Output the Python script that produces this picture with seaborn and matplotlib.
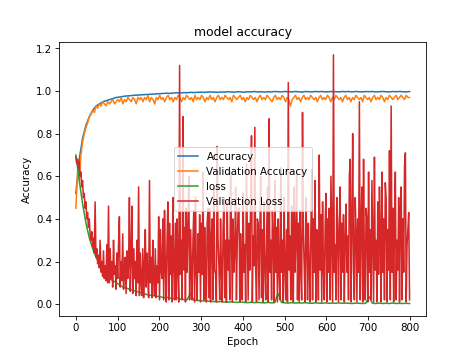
import numpy as np
import matplotlib
matplotlib.use("Agg")
import matplotlib.pyplot as plt
import seaborn as sns

# training accuracy, sampled every ~8 epochs
accuracy = [
    0.52, 0.68, 0.78, 0.84, 0.88, 0.91, 0.93, 0.94, 0.95, 0.955, 0.96, 0.965, 0.97, 0.972, 0.975, 0.977, 0.978, 0.98, 0.981, 0.982,
    0.983, 0.984, 0.985, 0.986, 0.987, 0.988, 0.989, 0.99, 0.989, 0.991, 0.992, 0.991, 0.993, 0.992, 0.994, 0.993, 0.994, 0.995, 0.994, 0.995,
    0.996, 0.995, 0.994, 0.996, 0.995, 0.997, 0.996, 0.995, 0.997, 0.996, 0.995, 0.997, 0.996, 0.998, 0.996, 0.997, 0.995, 0.997, 0.996, 0.998,
    0.997, 0.996, 0.998, 0.997, 0.996, 0.998, 0.997, 0.995, 0.998, 0.997, 0.996, 0.998, 0.997, 0.998, 0.996, 0.997, 0.998, 0.997, 0.996, 0.998,
    0.997, 0.998, 0.996, 0.998, 0.997, 0.996, 0.998, 0.997, 0.998, 0.996, 0.997, 0.998, 0.997, 0.996, 0.998, 0.997, 0.998, 0.997, 0.996, 0.998,
]

# validation accuracy, sampled every ~4 epochs
val_accuracy = [
    0.45, 0.62, 0.58, 0.70, 0.76, 0.80, 0.83, 0.85, 0.88, 0.89, 0.91, 0.90, 0.93, 0.92, 0.94, 0.93, 0.95, 0.94, 0.93, 0.95,
    0.94, 0.95, 0.96, 0.94, 0.95, 0.96, 0.95, 0.97, 0.94, 0.96, 0.95, 0.97, 0.96, 0.95, 0.97, 0.96, 0.94, 0.97, 0.96, 0.97,
    0.95, 0.97, 0.96, 0.98, 0.95, 0.97, 0.96, 0.94, 0.97, 0.96, 0.98, 0.96, 0.97, 0.95, 0.97, 0.98, 0.96, 0.97, 0.95, 0.97,
    0.96, 0.98, 0.97, 0.95, 0.97, 0.96, 0.98, 0.97, 0.96, 0.97, 0.95, 0.98, 0.96, 0.97, 0.96, 0.98, 0.97, 0.95, 0.97, 0.96,
    0.98, 0.96, 0.97, 0.95, 0.97, 0.98, 0.96, 0.97, 0.96, 0.98, 0.97, 0.96, 0.97, 0.95, 0.98, 0.97, 0.96, 0.97, 0.98, 0.96,
    0.97, 0.95, 0.97, 0.96, 0.98, 0.97, 0.96, 0.97, 0.95, 0.97, 0.98, 0.96, 0.97, 0.96, 0.98, 0.97, 0.96, 0.95, 0.97, 0.98,
    0.96, 0.97, 0.96, 0.98, 0.97, 0.95, 0.97, 0.96, 0.93, 0.96, 0.97, 0.98, 0.96, 0.97, 0.95, 0.97, 0.98, 0.96, 0.97, 0.96,
    0.98, 0.97, 0.96, 0.97, 0.95, 0.97, 0.98, 0.96, 0.97, 0.96, 0.98, 0.97, 0.95, 0.97, 0.96, 0.98, 0.97, 0.96, 0.97, 0.95,
    0.97, 0.98, 0.96, 0.97, 0.95, 0.97, 0.96, 0.98, 0.97, 0.96, 0.97, 0.95, 0.98, 0.97, 0.96, 0.97, 0.95, 0.97, 0.98, 0.96,
    0.97, 0.96, 0.98, 0.97, 0.95, 0.97, 0.96, 0.98, 0.97, 0.96, 0.97, 0.98, 0.96, 0.97, 0.98, 0.97, 0.96, 0.98, 0.97, 0.97,
]

# training loss, sampled every ~8 epochs
loss = [
    0.70, 0.58, 0.47, 0.38, 0.31, 0.26, 0.22, 0.19, 0.16, 0.14, 0.12, 0.11, 0.10, 0.09, 0.08, 0.075, 0.07, 0.065, 0.06, 0.055,
    0.05, 0.045, 0.042, 0.04, 0.037, 0.035, 0.03, 0.032, 0.028, 0.026, 0.03, 0.024, 0.022, 0.02, 0.05, 0.018, 0.017, 0.016, 0.015, 0.014,
    0.013, 0.012, 0.011, 0.012, 0.01, 0.009, 0.011, 0.009, 0.008, 0.01, 0.008, 0.007, 0.009, 0.007, 0.008, 0.007, 0.006, 0.008, 0.006, 0.007,
    0.05, 0.008, 0.006, 0.005, 0.007, 0.005, 0.006, 0.005, 0.007, 0.005, 0.004, 0.006, 0.005, 0.004, 0.006, 0.004, 0.005, 0.004, 0.006, 0.004,
    0.005, 0.004, 0.003, 0.005, 0.004, 0.003, 0.004, 0.035, 0.004, 0.003, 0.005, 0.003, 0.004, 0.003, 0.005, 0.003, 0.004, 0.003, 0.004, 0.003,
]

# validation loss, sampled every ~2 epochs
val_loss = [
    0.69, 0.66, 0.68, 0.64, 0.67, 0.60, 0.62, 0.55, 0.58, 0.50, 0.52, 0.45, 0.48, 0.40, 0.43, 0.36, 0.40, 0.33, 0.30, 0.34,
    0.27, 0.31, 0.24, 0.48, 0.22, 0.26, 0.19, 0.23, 0.17, 0.30, 0.15, 0.20, 0.13, 0.25, 0.12, 0.18, 0.11, 0.28, 0.10, 0.46,
    0.10, 0.26, 0.12, 0.20, 0.08, 0.30, 0.14, 0.18, 0.07, 0.24, 0.12, 0.28, 0.41, 0.08, 0.20, 0.11, 0.33, 0.07, 0.16, 0.22,
    0.05, 0.25, 0.12, 0.18, 0.50, 0.06, 0.22, 0.46, 0.05, 0.26, 0.12, 0.20, 0.04, 0.30, 0.10, 0.55, 0.04, 0.24, 0.12, 0.04,
    0.26, 0.03, 0.18, 0.35, 0.08, 0.24, 0.12, 0.03, 0.58, 0.10, 0.22, 0.03, 0.30, 0.12, 0.04, 0.26, 0.03, 0.18, 0.10, 0.41,
    0.02, 0.35, 0.16, 0.12, 0.40, 0.02, 0.44, 0.18, 0.01, 0.30, 0.48, 0.02, 0.38, 0.14, 0.32, 0.01, 0.50, 0.18, 0.02, 0.38,
    0.02, 0.40, 0.16, 0.01, 1.12, 0.14, 0.30, 0.02, 0.88, 0.16, 0.36, 0.01, 0.45, 0.15, 0.35, 0.60, 0.02, 0.35, 0.20, 0.02,
    0.30, 0.44, 0.01, 0.50, 0.16, 0.02, 0.33, 0.15, 0.42, 0.01, 0.38, 0.14, 0.62, 0.02, 0.36, 0.14, 0.01, 0.38, 0.45, 0.03,
    0.45, 0.01, 0.32, 0.40, 0.02, 0.55, 0.16, 0.14, 0.01, 0.74, 0.30, 0.18, 0.02, 0.40, 0.16, 0.01, 0.35, 0.50, 0.03, 0.30,
    0.01, 0.48, 0.16, 0.30, 0.02, 0.62, 0.35, 0.01, 0.40, 0.15, 0.25, 0.55, 0.02, 0.30, 0.44, 0.45, 0.01, 0.33, 0.14, 0.02,
    0.52, 0.15, 0.28, 0.01, 0.66, 0.32, 0.02, 0.38, 0.16, 0.50, 0.79, 0.01, 0.32, 0.18, 0.83, 0.16, 0.01, 0.40, 0.38, 0.02,
    0.35, 0.60, 0.03, 0.35, 0.01, 0.48, 0.18, 0.02, 0.30, 0.55, 0.01, 0.87, 0.15, 0.30, 0.02, 0.44, 0.32, 0.01, 0.58, 0.15,
    0.36, 0.01, 0.40, 0.16, 0.02, 0.64, 0.15, 0.30, 0.01, 0.50, 0.18, 0.02, 0.35, 0.01, 1.04, 0.16, 0.32, 0.02, 0.46, 0.30,
    0.01, 0.55, 0.15, 0.30, 0.62, 0.02, 0.38, 0.01, 0.44, 0.16, 0.02, 0.90, 0.33, 0.18, 0.01, 0.50, 0.32, 0.02, 0.38, 0.16,
    0.01, 0.35, 0.63, 0.02, 0.40, 0.15, 0.58, 0.01, 0.35, 0.30, 0.02, 0.70, 0.16, 0.42, 0.01, 0.48, 0.18, 0.02, 0.35, 0.52,
    0.01, 0.40, 0.15, 0.45, 0.02, 0.60, 0.32, 0.01, 1.17, 0.15, 0.28, 0.02, 0.50, 0.35, 0.01, 0.38, 0.55, 0.02, 0.38, 0.15,
    0.42, 0.01, 0.30, 0.47, 0.15, 0.32, 0.02, 0.60, 0.68, 0.01, 0.35, 0.80, 0.16, 0.02, 0.50, 0.35, 0.01, 0.40, 0.15, 0.95,
    0.02, 0.38, 0.55, 0.01, 0.68, 0.16, 0.02, 0.45, 0.40, 0.01, 0.62, 0.15, 0.35, 0.02, 0.58, 0.30, 0.01, 0.69, 0.16, 0.30,
    0.01, 0.48, 0.14, 0.55, 0.35, 0.01, 0.62, 0.15, 0.40, 0.02, 0.57, 0.50, 0.01, 0.35, 0.16, 0.72, 0.02, 0.93, 0.15, 0.45,
    0.01, 0.38, 0.62, 0.02, 0.30, 0.16, 0.50, 0.01, 0.40, 0.55, 0.02, 0.40, 0.15, 0.65, 0.71, 0.01, 0.28, 0.35, 0.43, 0.02,
]

series = [
    (accuracy, "Accuracy", "tab:blue"),
    (val_accuracy, "Validation Accuracy", "tab:orange"),
    (loss, "loss", "tab:green"),
    (val_loss, "Validation Loss", "tab:red"),
]

fig, ax = plt.subplots(figsize=(6.4, 4.8), dpi=74)

for values, name, col in series:
    epochs = np.linspace(0, 799, len(values))
    sns.lineplot(x=epochs, y=values, ax=ax, label=name, color=col)

ax.set_title("model accuracy")
ax.set_xlabel("Epoch")
ax.set_ylabel("Accuracy")
ax.legend(loc="center")

fig.savefig("out.png")
